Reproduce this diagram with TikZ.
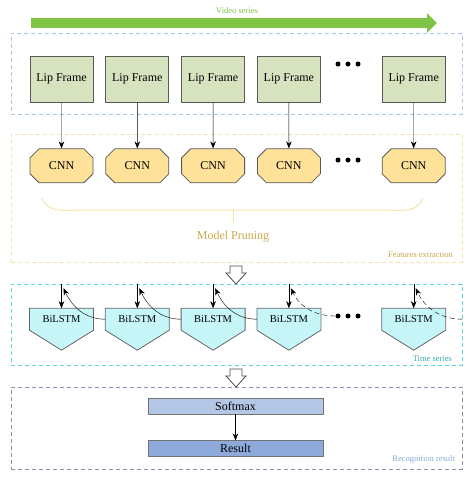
\documentclass[tikz,border=0pt]{standalone}
\usepackage{fontspec}
\setmainfont{Liberation Serif}
\usepackage{tikz}
\usetikzlibrary{shapes}
\usetikzlibrary{shapes.misc,backgrounds}
\usetikzlibrary{arrows,arrows.meta,positioning}
\definecolor{vsgreen}{RGB}{128,196,70}
\definecolor{g1line}{RGB}{168,198,230}
\definecolor{g2line}{RGB}{243,228,168}
\definecolor{g3line}{RGB}{92,214,220}
\definecolor{g4line}{RGB}{130,148,175}
\definecolor{lffill}{RGB}{215,227,191}
\definecolor{cnfill}{RGB}{255,226,154}
\definecolor{blfill}{RGB}{198,246,248}
\definecolor{smfill}{RGB}{180,199,231}
\definecolor{rsfill}{RGB}{142,170,219}
\definecolor{mpgold}{RGB}{201,167,74}
\definecolor{tsteal}{RGB}{60,170,170}
\definecolor{rrblue}{RGB}{135,173,212}
\tikzstyle{grp}=[rectangle, dash pattern=on 4pt off 3pt, line width=0.9pt, inner sep=0pt, minimum width=451pt]
\tikzstyle{lab}=[inner sep=0pt, font=\fontsize{8.5}{10}\selectfont]
\tikzstyle{lf}=[rectangle, draw=black!65, fill=lffill, line width=0.8pt, minimum width=63pt, minimum height=46pt, inner sep=0pt, font=\fontsize{12}{14}\selectfont]
\tikzstyle{cn}=[chamfered rectangle, chamfered rectangle xsep=5pt, chamfered rectangle ysep=5pt, draw=black!65, fill=cnfill, line width=0.8pt, minimum width=63pt, minimum height=34pt, inner sep=0pt, font=\fontsize{12}{14}\selectfont]
\tikzstyle{bl}=[rectangle, minimum width=63pt, minimum height=21pt, inner sep=0pt, text depth=0pt, font=\fontsize{10.5}{12}\selectfont]
\tikzstyle{blshape}=[draw=black!60, fill=blfill, line width=0.8pt, line join=miter]
\tikzstyle{sr}=[rectangle, draw=black!55, line width=0.8pt, minimum width=175pt, minimum height=16pt, inner sep=0pt, font=\fontsize{12}{14}\selectfont]
\tikzstyle{harrow}=[draw=black!70, fill=white, line width=0.8pt, line join=miter]
\tikzstyle{sv}=[circle, fill=black, inner sep=0pt, minimum size=5pt]
\tikzstyle{dsh}=[dash pattern=on 5pt off 3pt]

\begin{document}
\begin{tikzpicture}
 [x=1pt, y=-1pt, line width=1pt, >={Stealth[length=7pt,width=5.5pt]}, node distance=12pt]
 \useasboundingbox (0,0) rectangle (474,480);
 % frames
 \node[grp, draw=g1line, minimum height=81pt] (G1) at (236.5,73.5) {};
 \node[grp, draw=g2line, minimum height=128pt] (G2) at (236.5,198) {};
 \node[grp, draw=g3line, minimum height=81pt] (G3) at (236.5,324.5) {};
 \node[grp, draw=g4line, minimum height=82pt] (G4) at (236.5,428) {};
 \node[lab, text=mpgold, anchor=south east] (L2) at ([xshift=-9pt,yshift=4pt]G2.south east) {Features extraction};
 \node[lab, text=tsteal, anchor=south east] (L3) at ([xshift=-10pt,yshift=3pt]G3.south east) {Time series};
 \node[lab, text=rrblue, anchor=south east] (L4) at ([xshift=-7pt,yshift=6pt]G4.south east) {Recognition result};
 % video series
 \coordinate (VS0) at (31,23);
 \coordinate (VS1) at (437,23);
 \draw[vsgreen, line width=10pt, -{Triangle[length=10pt,width=19pt]}] (VS0) -- (VS1);
 \node[lab, text=vsgreen] (VT) at (237,11) {Video series};
 % lip frames
 \node[lf] (F1) at (61.5,79) {Lip Frame};
 \node[lf] (F2) [right=of F1] {Lip Frame};
 \node[lf] (F3) [right=of F2] {Lip Frame};
 \node[lf] (F4) [right=of F3] {Lip Frame};
 \node[lf] (F5) [right=61pt of F4] {Lip Frame};
 % cnn
 \node[cn] (C1) [below=46pt of F1] {CNN};
 \node[cn] (C2) [below=46pt of F2] {CNN};
 \node[cn] (C3) [below=46pt of F3] {CNN};
 \node[cn] (C4) [below=46pt of F4] {CNN};
 \node[cn] (C5) [below=46pt of F5] {CNN};
 % bilstm
 \node[bl] (B1) [below=125pt of C1] {BiLSTM};
 \node[bl] (B2) [below=125pt of C2] {BiLSTM};
 \node[bl] (B3) [below=125pt of C3] {BiLSTM};
 \node[bl] (B4) [below=125pt of C4] {BiLSTM};
 \node[bl] (B5) [below=125pt of C5] {BiLSTM};
 \begin{pgfonlayer}{background}
 \foreach \i in {1,...,5}
   \draw[blshape] (B\i.north west) -- (B\i.north east) -- (B\i.south east)
     -- ([yshift=-20pt]B\i.south) -- (B\i.south west) -- cycle;
 \end{pgfonlayer}
 \foreach \i/\x in {1/338,2/348,3/358} {
   \node[sv] (D\i) at (\x,64) {};
   \node[sv] (E\i) at (\x,160) {};
   \node[sv] (H\i) at (\x,316) {};
 }
 % pruning
 \draw[g2line, line width=1pt] (42,198) to[out=-70,in=180] (85,210) -- (381,210) to[out=0,in=-110] (423,198);
 \draw[g2line, line width=1pt] (233,210) -- (233,222);
 \node[text=mpgold, font=\fontsize{12}{14}\selectfont] (MP) at (233,237) {Model Pruning};
 % between frames
 \foreach \y in {266,369}
   \draw[harrow] (230,\y) -- ++(12,0) -- ++(0,7) -- ++(4,0) -- ++(-10,11) -- ++(-10,-11) -- ++(4,0) -- cycle;
 % recognition
 \node[sr, fill=smfill] (SM) at (235.5,406) {Softmax};
 \node[sr, fill=rsfill] (RS) [below=26pt of SM] {Result};
 % connectors
 \path[->]
   (F1) edge (C1)
   (F2) edge (C2)
   (F3) edge (C3)
   (F4) edge (C4)
   (F5) edge (C5)
   (SM) edge (RS);
 \foreach \i in {1,...,5} {
   \draw[->] (B\i.north |- G3.north) -- (B\i.north);
   \coordinate (T\i) at ([xshift=2pt,yshift=20pt]B\i.north);
 }
 \coordinate (R5) at (G3.east |- B5.west);
 \draw[->] (B2.west) to[out=180,in=-65] (T1);
 \draw[->] (B3.west) to[out=180,in=-65] (T2);
 \draw[->] (B4.west) to[out=180,in=-65] (T3);
 \draw[->, dsh] (H1.west) to[out=180,in=-65] (T4);
 \draw[->, dsh] (R5) to[out=180,in=-65] (T5);
\end{tikzpicture}
\end{document}
